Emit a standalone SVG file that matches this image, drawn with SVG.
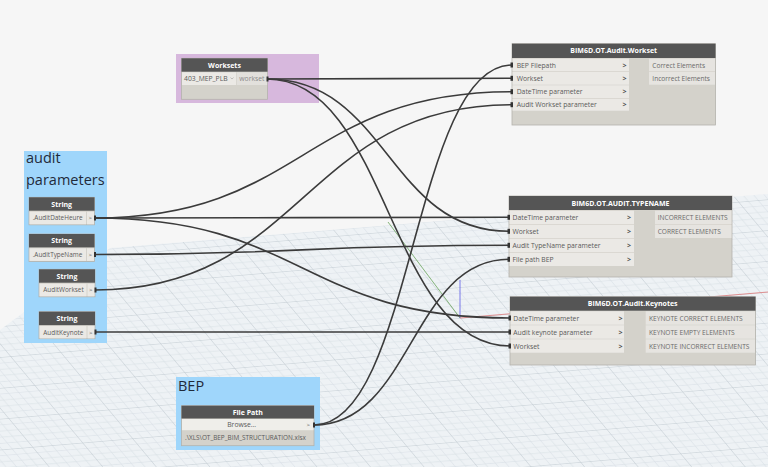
<svg xmlns="http://www.w3.org/2000/svg" width="768" height="467" viewBox="0 0 768 467">
<defs>
<style>
.hdr{fill:#555555}
.body{fill:#d4d2cb;stroke:#b4b2ac;stroke-width:0.8}
.row{fill:#ebe9e5}
.orow{fill:#e6e4e0}
.ht{font-family:"Open Sans","Liberation Sans",sans-serif;font-size:7px;font-weight:bold;fill:#ffffff;text-anchor:middle}
.pl{font-family:"Open Sans","Liberation Sans",sans-serif;font-size:6.8px;fill:#5a5a5a}
.ol{font-family:"Open Sans","Liberation Sans",sans-serif;font-size:6.6px;fill:#6a6a6a}
.ch{font-family:"Open Sans","Liberation Sans",sans-serif;font-size:7px;font-weight:bold;fill:#4a4a4a}
.gt{font-family:"Open Sans","Liberation Sans",sans-serif;font-size:14.5px;fill:#1f2a3a}
.wire{fill:none;stroke:#3b3b3b;stroke-width:1.6}
.pm{fill:#333333}
</style>
<pattern id="grid" patternUnits="userSpaceOnUse" width="50" height="50" patternTransform="matrix(1 -0.085 0.48 0.576 460 318)">
<rect width="50" height="50" fill="#eef2f5"/>
<path d="M10 0V50M20 0V50M30 0V50M40 0V50M0 10H50M0 20H50M0 30H50M0 40H50" stroke="#d6dee4" stroke-width="0.7" fill="none"/>
<path d="M0 0V50M0 0H50" stroke="#bcc6cd" stroke-width="1" fill="none"/>
</pattern>
</defs>
<rect width="768" height="467" fill="#f6f6f6"/>
<polygon points="0,330 110,248 768,194 768,467 0,467" fill="url(#grid)"/>
<g id="axes" stroke-width="0.8">
<line x1="388" y1="222" x2="460" y2="318" stroke="#6aa35a"/>
<line x1="460" y1="318" x2="460" y2="280" stroke="#5c5ce6"/>
<line x1="460" y1="318" x2="768" y2="292" stroke="#e07a7a"/>
</g>

<g id="group-worksets"><rect x="176" y="54" width="143" height="49" fill="#d7b8dd"/></g>
<g id="group-audit-parameters"><rect x="24" y="151" width="83" height="192" fill="#9fd6fb"/>
<text class="gt" x="26" y="163">audit</text><text class="gt" x="26" y="185">parameters</text></g>
<g id="group-bep"><rect x="176" y="377" width="144" height="73" fill="#9fd6fb"/>
<text class="gt" x="178" y="391">BEP</text></g>

<g id="connectors">
<path class="wire" d="M267,79 C389.5,79 389.5,78.3 512,78.3"/>
<path class="wire" d="M267,79 C388,79 388,231.3 509,231.3"/>
<path class="wire" d="M267,79 C388.5,79 388.5,346 510,346"/>
<path class="wire" d="M95,218 C303.5,218 303.5,91.7 512,91.7"/>
<path class="wire" d="M95,218 C302,218 302,217.3 509,217.3"/>
<path class="wire" d="M95,218 C302.5,218 302.5,318 510,318"/>
<path class="wire" d="M95,254.5 C302,254.5 302,245.3 509,245.3"/>
<path class="wire" d="M95,290 C303.5,290 303.5,104.7 512,104.7"/>
<path class="wire" d="M95,332 C302.5,332 302.5,332 510,332"/>
<path class="wire" d="M314,425 C413,425 413,65 512,65"/>
<path class="wire" d="M314,425 C411.5,425 411.5,259.3 509,259.3"/>
</g>

<g id="node-worksets">
<rect class="body" x="181.5" y="58.3" width="86" height="41"/>
<rect class="hdr" x="181.5" y="58.3" width="86" height="13.4"/>
<text class="ht" x="224.5" y="67.6">Worksets</text>
<rect class="row" x="182" y="72.3" width="54" height="12.7"/>
<rect fill="#e2e0dc" x="236.7" y="72.3" width="30.4" height="12.7"/>
<text class="pl" x="184" y="81">403_MEP_PLB</text>
<polyline points="230.5,77.6 232,79 233.5,77.6" fill="none" stroke="#9a9a9a" stroke-width="0.6"/>
<text class="pl" x="239.3" y="81" style="fill:#8a8a8a">workset</text>
<rect class="pm" x="266.5" y="76.5" width="2" height="5"/>
</g>

<g id="node-string-dateheure">
<rect class="body" x="29" y="197.3" width="65.5" height="27.5"/>
<rect class="hdr" x="29" y="197.3" width="65.5" height="13.4"/>
<text class="ht" x="61.7" y="206.6">String</text>
<rect class="row" x="29.5" y="211.7" width="56.5" height="12.6"/>
<rect class="row" x="87" y="211.7" width="7" height="12.6"/>
<text class="pl" x="32.7" y="220.3" style="font-size:6.4px">.AuditDateHeure</text>
<text class="ch" x="88.6" y="220.3" style="font-weight:normal;font-size:6px">&gt;</text>
<rect class="pm" x="94" y="215.5" width="2" height="5"/>
</g>
<g id="node-string-typename">
<rect class="body" x="29" y="234" width="65.5" height="27.5"/>
<rect class="hdr" x="29" y="234" width="65.5" height="13.4"/>
<text class="ht" x="61.7" y="243.3">String</text>
<rect class="row" x="29.5" y="248.3" width="56.5" height="12.6"/>
<rect class="row" x="87" y="248.3" width="7" height="12.6"/>
<text class="pl" x="32.7" y="256.9" style="font-size:6.4px">.AuditTypeName</text>
<text class="ch" x="88.6" y="256.9" style="font-weight:normal;font-size:6px">&gt;</text>
<rect class="pm" x="94" y="252" width="2" height="5"/>
</g>
<g id="node-string-workset">
<rect class="body" x="39" y="269.3" width="56" height="27.5"/>
<rect class="hdr" x="39" y="269.3" width="56" height="13.4"/>
<text class="ht" x="67" y="278.6">String</text>
<rect class="row" x="39.5" y="283.7" width="47" height="12.6"/>
<rect class="row" x="87.5" y="283.7" width="7" height="12.6"/>
<text class="pl" x="43.3" y="292.3" style="font-size:6.4px">AuditWorkset</text>
<text class="ch" x="89" y="292.3" style="font-weight:normal;font-size:6px">&gt;</text>
<rect class="pm" x="94.5" y="287.5" width="2" height="5"/>
</g>
<g id="node-string-keynote">
<rect class="body" x="39" y="311.7" width="56" height="27"/>
<rect class="hdr" x="39" y="311.7" width="56" height="13.4"/>
<text class="ht" x="67" y="321">String</text>
<rect class="row" x="39.5" y="326" width="47" height="12.4"/>
<rect class="row" x="87.5" y="326" width="7" height="12.4"/>
<text class="pl" x="43.3" y="334.5" style="font-size:6.4px">AuditKeynote</text>
<text class="ch" x="89" y="334.5" style="font-weight:normal;font-size:6px">&gt;</text>
<rect class="pm" x="94.5" y="329.5" width="2" height="5"/>
</g>

<g id="node-filepath">
<rect class="body" x="181.5" y="405.7" width="132.5" height="40"/>
<rect class="hdr" x="181.5" y="405.7" width="132.5" height="12.8"/>
<text class="ht" x="247.8" y="414.7">File Path</text>
<rect fill="#efeeea" x="182" y="419" width="131.5" height="11.2"/>
<text class="pl" x="241.7" y="427" style="text-anchor:middle">Browse...</text>
<text class="ch" x="306.5" y="427" style="font-weight:normal;font-size:6px">&gt;</text>
<text class="pl" x="185" y="440.2" style="font-size:6.4px">.\XLS\OT_BEP_BIM_STRUCTURATION.xlsx</text>
<rect class="pm" x="313" y="422.5" width="2" height="5"/>
</g>

<g id="node-audit-workset">
<rect class="body" x="512" y="43.7" width="203.5" height="81.3"/>
<rect class="hdr" x="512" y="43.7" width="203.5" height="14.3"/>
<text class="ht" x="613.7" y="53.4">BIM6D.OT.Audit.Workset</text>
<rect class="row" x="512.5" y="58.7" width="116.5" height="12.6"/>
<rect class="row" x="512.5" y="72" width="116.5" height="12.7"/>
<rect class="row" x="512.5" y="85.3" width="116.5" height="12.7"/>
<rect class="row" x="512.5" y="98.7" width="116.5" height="12"/>
<text class="pl" x="516.7" y="67.6">BEP Filepath</text>
<text class="pl" x="516.7" y="80.9">Workset</text>
<text class="pl" x="516.7" y="94.2">DateTime parameter</text>
<text class="pl" x="516.7" y="107.3">Audit Workset parameter</text>
<text class="ch" x="622.5" y="67.6">&gt;</text>
<text class="ch" x="622.5" y="80.9">&gt;</text>
<text class="ch" x="622.5" y="94.2">&gt;</text>
<text class="ch" x="622.5" y="107.3">&gt;</text>
<rect class="orow" x="649" y="58.7" width="66" height="12.6"/>
<rect class="orow" x="649" y="72" width="66" height="12.7"/>
<text class="ol" x="652.3" y="67.6">Correct Elements</text>
<text class="ol" x="652.3" y="80.9">Incorrect Elements</text>
<rect class="pm" x="510.5" y="62.5" width="2.5" height="5"/>
<rect class="pm" x="510.5" y="75.8" width="2.5" height="5"/>
<rect class="pm" x="510.5" y="89.2" width="2.5" height="5"/>
<rect class="pm" x="510.5" y="102.2" width="2.5" height="5"/>
</g>

<g id="node-audit-typename">
<rect class="body" x="509" y="196" width="223" height="81"/>
<rect class="hdr" x="509" y="196" width="223" height="14"/>
<text class="ht" x="620.5" y="205.6">BIM6D.OT.AUDIT.TYPENAME</text>
<rect class="row" x="509.5" y="210.7" width="124.5" height="13.3"/>
<rect class="row" x="509.5" y="224.7" width="124.5" height="13.3"/>
<rect class="row" x="509.5" y="238.7" width="124.5" height="13.3"/>
<rect class="row" x="509.5" y="252.7" width="124.5" height="13.3"/>
<text class="pl" x="512.5" y="219.9">DateTime parameter</text>
<text class="pl" x="512.5" y="233.9">Workset</text>
<text class="pl" x="512.5" y="247.9">Audit TypeName parameter</text>
<text class="pl" x="512.5" y="261.9">File path BEP</text>
<text class="ch" x="627" y="219.9">&gt;</text>
<text class="ch" x="627" y="233.9">&gt;</text>
<text class="ch" x="627" y="247.9">&gt;</text>
<text class="ch" x="627" y="261.9">&gt;</text>
<rect class="orow" x="655" y="210.7" width="76.5" height="13.3"/>
<rect class="orow" x="655" y="224.7" width="76.5" height="13.3"/>
<text class="ol" x="657.7" y="219.9">INCORRECT ELEMENTS</text>
<text class="ol" x="657.7" y="233.9">CORRECT ELEMENTS</text>
<rect class="pm" x="507.5" y="214.8" width="2.5" height="5"/>
<rect class="pm" x="507.5" y="228.8" width="2.5" height="5"/>
<rect class="pm" x="507.5" y="242.8" width="2.5" height="5"/>
<rect class="pm" x="507.5" y="256.8" width="2.5" height="5"/>
</g>

<g id="node-audit-keynotes">
<rect class="body" x="510" y="296.7" width="245.5" height="68.3"/>
<rect class="hdr" x="510" y="296.7" width="245.5" height="14"/>
<text class="ht" x="632.7" y="306.3">BIM6D.OT.Audit.Keynotes</text>
<rect class="row" x="510.5" y="311.3" width="113.5" height="13.4"/>
<rect class="row" x="510.5" y="325.3" width="113.5" height="13.4"/>
<rect class="row" x="510.5" y="339.3" width="113.5" height="13.4"/>
<text class="pl" x="513.3" y="320.6">DateTime parameter</text>
<text class="pl" x="513.3" y="334.6">Audit keynote parameter</text>
<text class="pl" x="513.3" y="348.6">Workset</text>
<text class="ch" x="618.5" y="320.6">&gt;</text>
<text class="ch" x="618.5" y="334.6">&gt;</text>
<text class="ch" x="618.5" y="348.6">&gt;</text>
<rect class="orow" x="645.7" y="311.3" width="109.3" height="13.4"/>
<rect class="orow" x="645.7" y="325.3" width="109.3" height="13.4"/>
<rect class="orow" x="645.7" y="339.3" width="109.3" height="13.4"/>
<text class="ol" x="649" y="320.6">KEYNOTE CORRECT ELEMENTS</text>
<text class="ol" x="649" y="334.6">KEYNOTE EMPTY ELEMENTS</text>
<text class="ol" x="649" y="348.6">KEYNOTE INCORRECT ELEMENTS</text>
<rect class="pm" x="508.5" y="315.5" width="2.5" height="5"/>
<rect class="pm" x="508.5" y="329.5" width="2.5" height="5"/>
<rect class="pm" x="508.5" y="343.5" width="2.5" height="5"/>
</g>
</svg>
